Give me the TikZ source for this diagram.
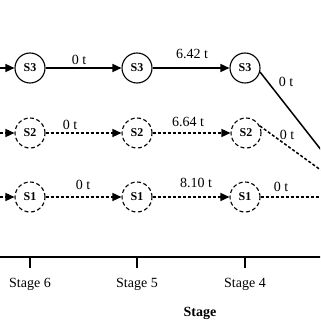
\documentclass[tikz,border=0pt]{standalone}
\usepackage{fontspec}
\setmainfont{Liberation Serif}
\usetikzlibrary{arrows.meta}
\tikzset{
  st/.style={circle,draw,line width=1.1pt,minimum size=30pt,inner sep=0pt,font=\fontsize{12}{12}\selectfont\bfseries},
  dst/.style={st,dash pattern=on 4pt off 2.5pt},
  ed/.style={line width=1.5pt,-{Triangle[length=9pt,width=8pt]}},
  ded/.style={ed,dash pattern=on 3pt off 2pt},
  pl/.style={line width=1.5pt},
  dpl/.style={pl,dash pattern=on 3pt off 2pt},
  lab/.style={font=\fontsize{14}{14}\selectfont,inner sep=0pt},
}
\begin{document}
\begin{tikzpicture}[x=1pt,y=-1pt]
\useasboundingbox (0,0) rectangle (320,320);
\clip (0,0) rectangle (320,320);
% nodes
\node[st] (a3) at (30,68) {S3};
\node[st] (b3) at (137,68) {S3};
\node[st] (c3) at (245,68) {S3};
\node[dst] (a2) at (30,133) {S2};
\node[dst] (b2) at (137,133) {S2};
\node[dst] (c2) at (246,133) {S2};
\node[dst] (a1) at (30,197) {S1};
\node[dst] (b1) at (137,197) {S1};
\node[dst] (c1) at (245,197) {S1};
\coordinate (in3) at (-5,68);
\coordinate (in2) at (-5,133);
\coordinate (in1) at (-5,197);
\coordinate (nx) at (358,197);
% edges
\draw[ed] (in3) -- (a3);
\draw[ed] (a3) -- (b3);
\draw[ed] (b3) -- (c3);
\draw[pl] (c3.-15) -- (nx);
\draw[ded] (in2) -- (a2);
\draw[ded] (a2) -- (b2);
\draw[ded] (b2) -- (c2);
\draw[dpl] (c2.27) -- (nx);
\draw[ded] (in1) -- (a1);
\draw[ded] (a1) -- (b1);
\draw[ded] (b1) -- (c1);
\draw[dpl] (c1) -- (nx);
% edge labels
\node[lab] (l1) at (79,60) {0 t};
\node[lab] (l2) at (192,54) {6.42 t};
\node[lab] (l3) at (286,82) {0 t};
\node[lab] (l4) at (70,125) {0 t};
\node[lab] (l5) at (188,122) {6.64 t};
\node[lab] (l6) at (287,135) {0 t};
\node[lab] (l7) at (83,185) {0 t};
\node[lab] (l8) at (196,183) {8.10 t};
\node[lab] (l9) at (281,187) {0 t};
% axis
\coordinate (ax0) at (-5,257);
\coordinate (ax1) at (325,257);
\draw[line width=1.6pt] (ax0) -- (ax1);
\coordinate (t6) at (30,257);
\coordinate (t5) at (137,257);
\coordinate (t4) at (245,257);
\draw[line width=1.6pt] (t6) -- ++(0,11);
\draw[line width=1.6pt] (t5) -- ++(0,11);
\draw[line width=1.6pt] (t4) -- ++(0,11);
\node[lab] (s6) at (30,284) {Stage 6};
\node[lab] (s5) at (137,284) {Stage 5};
\node[lab] (s4) at (245,284) {Stage 4};
\node[lab,font=\fontsize{14}{14}\selectfont\bfseries] (st) at (200,313) {Stage};
\end{tikzpicture}
\end{document}
